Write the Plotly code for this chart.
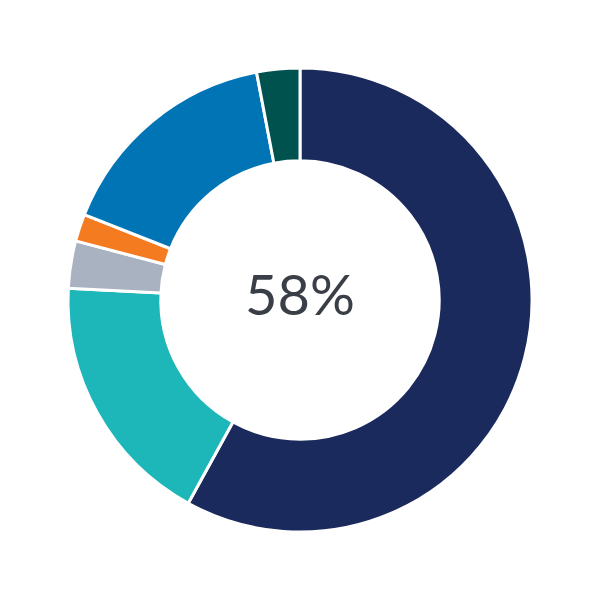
import plotly.graph_objects as go

labels = ["A", "B", "C", "D", "E", "F"]
values = [58, 17.8, 3.3, 1.9, 16.0, 3.0]
colors = ["#1b2a5c", "#1db6b9", "#a8b2c1", "#f47b20", "#0074b4", "#00524f"]
center_text = "58%"

fig = go.Figure(go.Pie(
    labels=labels, values=values, hole=0.6, sort=False, direction="clockwise",
    rotation=0, marker=dict(colors=colors, line=dict(color="white", width=3)),
    textinfo="none", hoverinfo="label+percent", showlegend=False,
))
fig.add_annotation(text=center_text, x=0.5, y=0.5, xref="paper", yref="paper",
                   showarrow=False, yshift=7,
                   font=dict(family="Lato", size=56, color="#3a3f47"))
fig.update_layout(width=600, height=600, margin=dict(l=60, r=76, t=60, b=76),
                  paper_bgcolor="white", plot_bgcolor="white")
fig.write_html("out.html")
